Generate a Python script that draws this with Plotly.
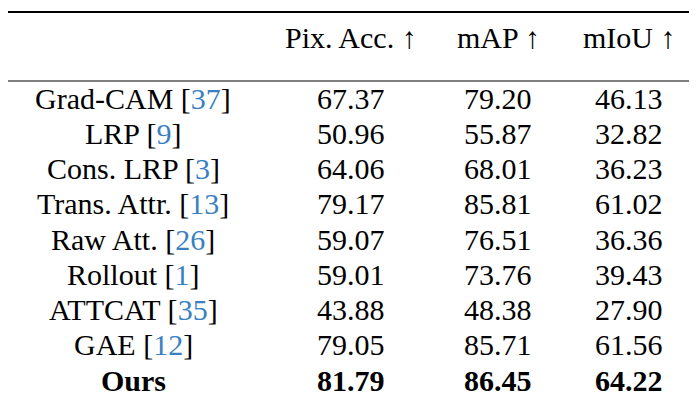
import plotly.graph_objects as go

methods = ["Grad-CAM", "LRP", "Cons. LRP", "Trans. Attr.", "Raw Att.", "Rollout", "ATTCAT", "GAE", "Ours"]
cites = ["37", "9", "3", "13", "26", "1", "35", "12", ""]
pix_acc = ["67.37", "50.96", "64.06", "79.17", "59.07", "59.01", "43.88", "79.05", "81.79"]
mAP = ["79.20", "55.87", "68.01", "85.81", "76.51", "73.76", "48.38", "85.71", "86.45"]
mIoU = ["46.13", "32.82", "36.23", "61.02", "36.36", "39.43", "27.90", "61.56", "64.22"]
headers = ["", "Pix. Acc. ↑", "mAP ↑", "mIoU ↑"]

W, H = 697, 415
col_x = [125, 343, 490, 621]
off = -9
header_y = 38 + off
row_y0, row_dy = 99 + off, 35.25
blue = "#3a7fc1"
font = dict(family="Liberation Serif, Times New Roman, serif", size=30, color="black")

fig = go.Figure()
annotations = []
for x, h in zip(col_x, headers):
    if h:
        annotations.append(dict(x=x, y=header_y, text=h))
for i, m in enumerate(methods):
    y = row_y0 + i * row_dy
    bold = m == "Ours"
    label = m if not cites[i] else f"{m} [<span style='color:{blue}'>{cites[i]}</span>]"
    vals = [label, pix_acc[i], mAP[i], mIoU[i]]
    for x, v in zip(col_x, vals):
        annotations.append(dict(x=x, y=y, text=f"<b>{v}</b>" if bold else v))
for a in annotations:
    a.update(xref="x", yref="y", showarrow=False, font=font, xanchor="center", yanchor="middle")

shapes = [
    dict(type="line", x0=0, x1=W, y0=4, y1=4, line=dict(color="black", width=2)),
    dict(type="line", x0=0, x1=W, y0=73, y1=73, line=dict(color="black", width=1.2)),
    dict(type="line", x0=0, x1=W, y0=410, y1=410, line=dict(color="black", width=2)),
]
for s in shapes:
    s.update(xref="x", yref="y")

fig.update_layout(
    width=W, height=H, margin=dict(l=0, r=0, t=0, b=0),
    paper_bgcolor="white", plot_bgcolor="white",
    xaxis=dict(range=[0, W], visible=False, fixedrange=True),
    yaxis=dict(range=[H, 0], visible=False, fixedrange=True),
    annotations=annotations, shapes=shapes, showlegend=False,
)
fig.write_html("out.html")
